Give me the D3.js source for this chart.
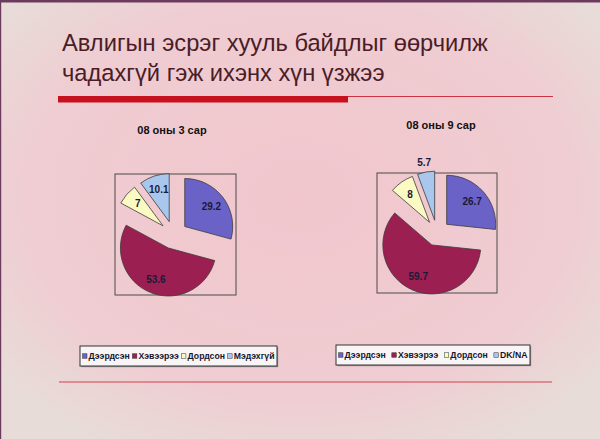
<!DOCTYPE html>
<html>
<head>
<meta charset="utf-8">
<script src="https://cdn.jsdelivr.net/npm/d3@7"></script>
<style>
  html, body { margin: 0; padding: 0; background: #eadbd9; }
  svg { display: block; }
</style>
</head>
<body>
<svg id="chart" width="600" height="439"></svg>
<script>
// ---- data ----
const titleLines = ["Авлигын эсрэг хууль байдлыг өөрчилж", "чадахгүй гэж ихэнх хүн үзжээ"];

const leftTitle = "08 оны 3 сар";
const leftLabels = ["Дээрдсэн", "Хэвээрээ", "Дордсон", "Мэдэхгүй"];
const leftValues = [29.2, 53.6, 7, 10.1];

const rightTitle = "08 оны 9 сар";
const rightLabels = ["Дээрдсэн", "Хэвээрээ", "Дордсон", "DK/NA"];
const rightValues = [26.7, 59.7, 8, 5.7];

const sliceColors = ["#6a62c6", "#9c1f52", "#fafac2", "#a9c7ec"];

// ---- layout ----
const svg = d3.select("#chart");
const W = 600, H = 439;
const font = "Arial, 'Liberation Sans', sans-serif";

// background
const defs = svg.append("defs");
const bg = defs.append("radialGradient").attr("id", "bg")
  .attr("cx", "50%").attr("cy", "45%").attr("r", "65%");
bg.append("stop").attr("offset", "0%").attr("stop-color", "#f1c6cd");
bg.append("stop").attr("offset", "70%").attr("stop-color", "#efcdd2");
bg.append("stop").attr("offset", "100%").attr("stop-color", "#e7dcd8");

svg.append("rect").attr("width", W).attr("height", H).attr("fill", "url(#bg)");
svg.append("rect").attr("width", W).attr("height", 2.5).attr("fill", "#6b3a5c");
svg.append("rect").attr("width", 1.2).attr("height", H).attr("fill", "#6b3a5c");

// title
svg.append("g").selectAll("text")
  .data(titleLines)
  .join("text")
  .attr("x", 62)
  .attr("y", (d, i) => 51 + i * 30)
  .attr("font-family", font)
  .attr("font-size", 23.7)
  .attr("fill", "#4a1d27")
  .text(d => d);

// red rules
svg.append("rect").attr("x", 58).attr("y", 96).attr("width", 290).attr("height", 6.5).attr("fill", "#c8111f");
svg.append("line").attr("x1", 348).attr("x2", 553).attr("y1", 96.5).attr("y2", 96.5)
  .attr("stroke", "#cc3340").attr("stroke-width", 1);
svg.append("line").attr("x1", 59).attr("x2", 552).attr("y1", 382).attr("y2", 382)
  .attr("stroke", "#d2404e").attr("stroke-width", 1);

// ---- one exploded pie ----
function drawPie(opt) {
  const g = svg.append("g");

  g.append("text")
    .attr("x", opt.titleX).attr("y", opt.titleY)
    .attr("text-anchor", "middle")
    .attr("font-family", font).attr("font-size", 11).attr("font-weight", "bold")
    .attr("fill", "#111")
    .text(opt.title);

  g.append("rect")
    .attr("x", opt.box[0]).attr("y", opt.box[1])
    .attr("width", opt.box[2]).attr("height", opt.box[3])
    .attr("fill", "none").attr("stroke", "#4a4a4a").attr("stroke-width", 1);

  const r = opt.r;
  const pie = d3.pie().sort(null).value(d => d);
  const arcs = pie(opt.values);
  const arc = d3.arc().innerRadius(0).outerRadius(r);

  const dir = a => {
    const m = (a.startAngle + a.endAngle) / 2;
    return [Math.sin(m), -Math.cos(m)];
  };

  const slices = g.append("g").attr("transform", `translate(${opt.cx},${opt.cy})`);

  slices.selectAll("path")
    .data(arcs)
    .join("path")
    .attr("transform", d => {
      const [dx, dy] = dir(d);
      return `translate(${dx * opt.explode},${dy * opt.explode})`;
    })
    .attr("d", arc)
    .attr("fill", (d, i) => sliceColors[i])
    .attr("stroke", "#3c3c3c").attr("stroke-width", 0.8);

  slices.selectAll("text")
    .data(arcs)
    .join("text")
    .attr("x", d => {
      const [dx] = dir(d);
      const k = d.value < 6 ? r + 10 : r * 0.7;
      return dx * (opt.explode + k);
    })
    .attr("y", d => {
      const [, dy] = dir(d);
      const k = d.value < 6 ? r + 10 : r * 0.7;
      return dy * (opt.explode + k) + 3.5;
    })
    .attr("text-anchor", "middle")
    .attr("font-family", font).attr("font-size", 10).attr("font-weight", "bold")
    .attr("fill", "#1a1a36")
    .text(d => d.value);

  // legend
  const lg = g.append("g");
  const [lx, ly, lw, lh] = opt.legend;
  lg.append("rect").attr("x", lx + 1.2).attr("y", ly + 1.2).attr("width", lw).attr("height", lh)
    .attr("fill", "#9a9094");
  lg.append("rect").attr("x", lx).attr("y", ly).attr("width", lw).attr("height", lh)
    .attr("fill", "#f9f5f7").attr("stroke", "#333").attr("stroke-width", 1);

  const items = lg.selectAll("g.item")
    .data(opt.labels)
    .join("g").attr("class", "item");

  const sw = 4.5, tg = 1.6;
  items.append("rect")
    .attr("width", sw).attr("height", sw)
    .attr("y", ly + lh / 2 - sw / 2)
    .attr("fill", (d, i) => sliceColors[i])
    .attr("stroke", "#333").attr("stroke-width", 0.5);
  const texts = items.append("text")
    .attr("y", ly + lh / 2 + 3.1)
    .attr("font-family", font).attr("font-size", 8.7).attr("font-weight", "bold")
    .attr("fill", "#15152a")
    .text(d => d);

  const widths = texts.nodes().map(n => n.getComputedTextLength());
  const used = d3.sum(widths) + opt.labels.length * (sw + tg);
  const gap = Math.max(2, (lw - 5 - used) / (opt.labels.length - 1));
  let x = lx + 2.5;
  items.each(function (d, i) {
    const it = d3.select(this);
    it.select("rect").attr("x", x);
    it.select("text").attr("x", x + sw + tg);
    x += sw + tg + widths[i] + gap;
  });
}

drawPie({
  title: leftTitle, titleX: 172, titleY: 134,
  values: leftValues, labels: leftLabels,
  box: [115, 174, 121, 121],
  cx: 173.6, cy: 235, r: 48, explode: 14,
  legend: [80, 346, 197, 20]
});

drawPie({
  title: rightTitle, titleX: 441, titleY: 129,
  values: rightValues, labels: rightLabels,
  box: [377, 173, 120, 120],
  cx: 437, cy: 233, r: 49, explode: 13,
  legend: [336, 345, 194, 20]
});
</script>
</body>
</html>
